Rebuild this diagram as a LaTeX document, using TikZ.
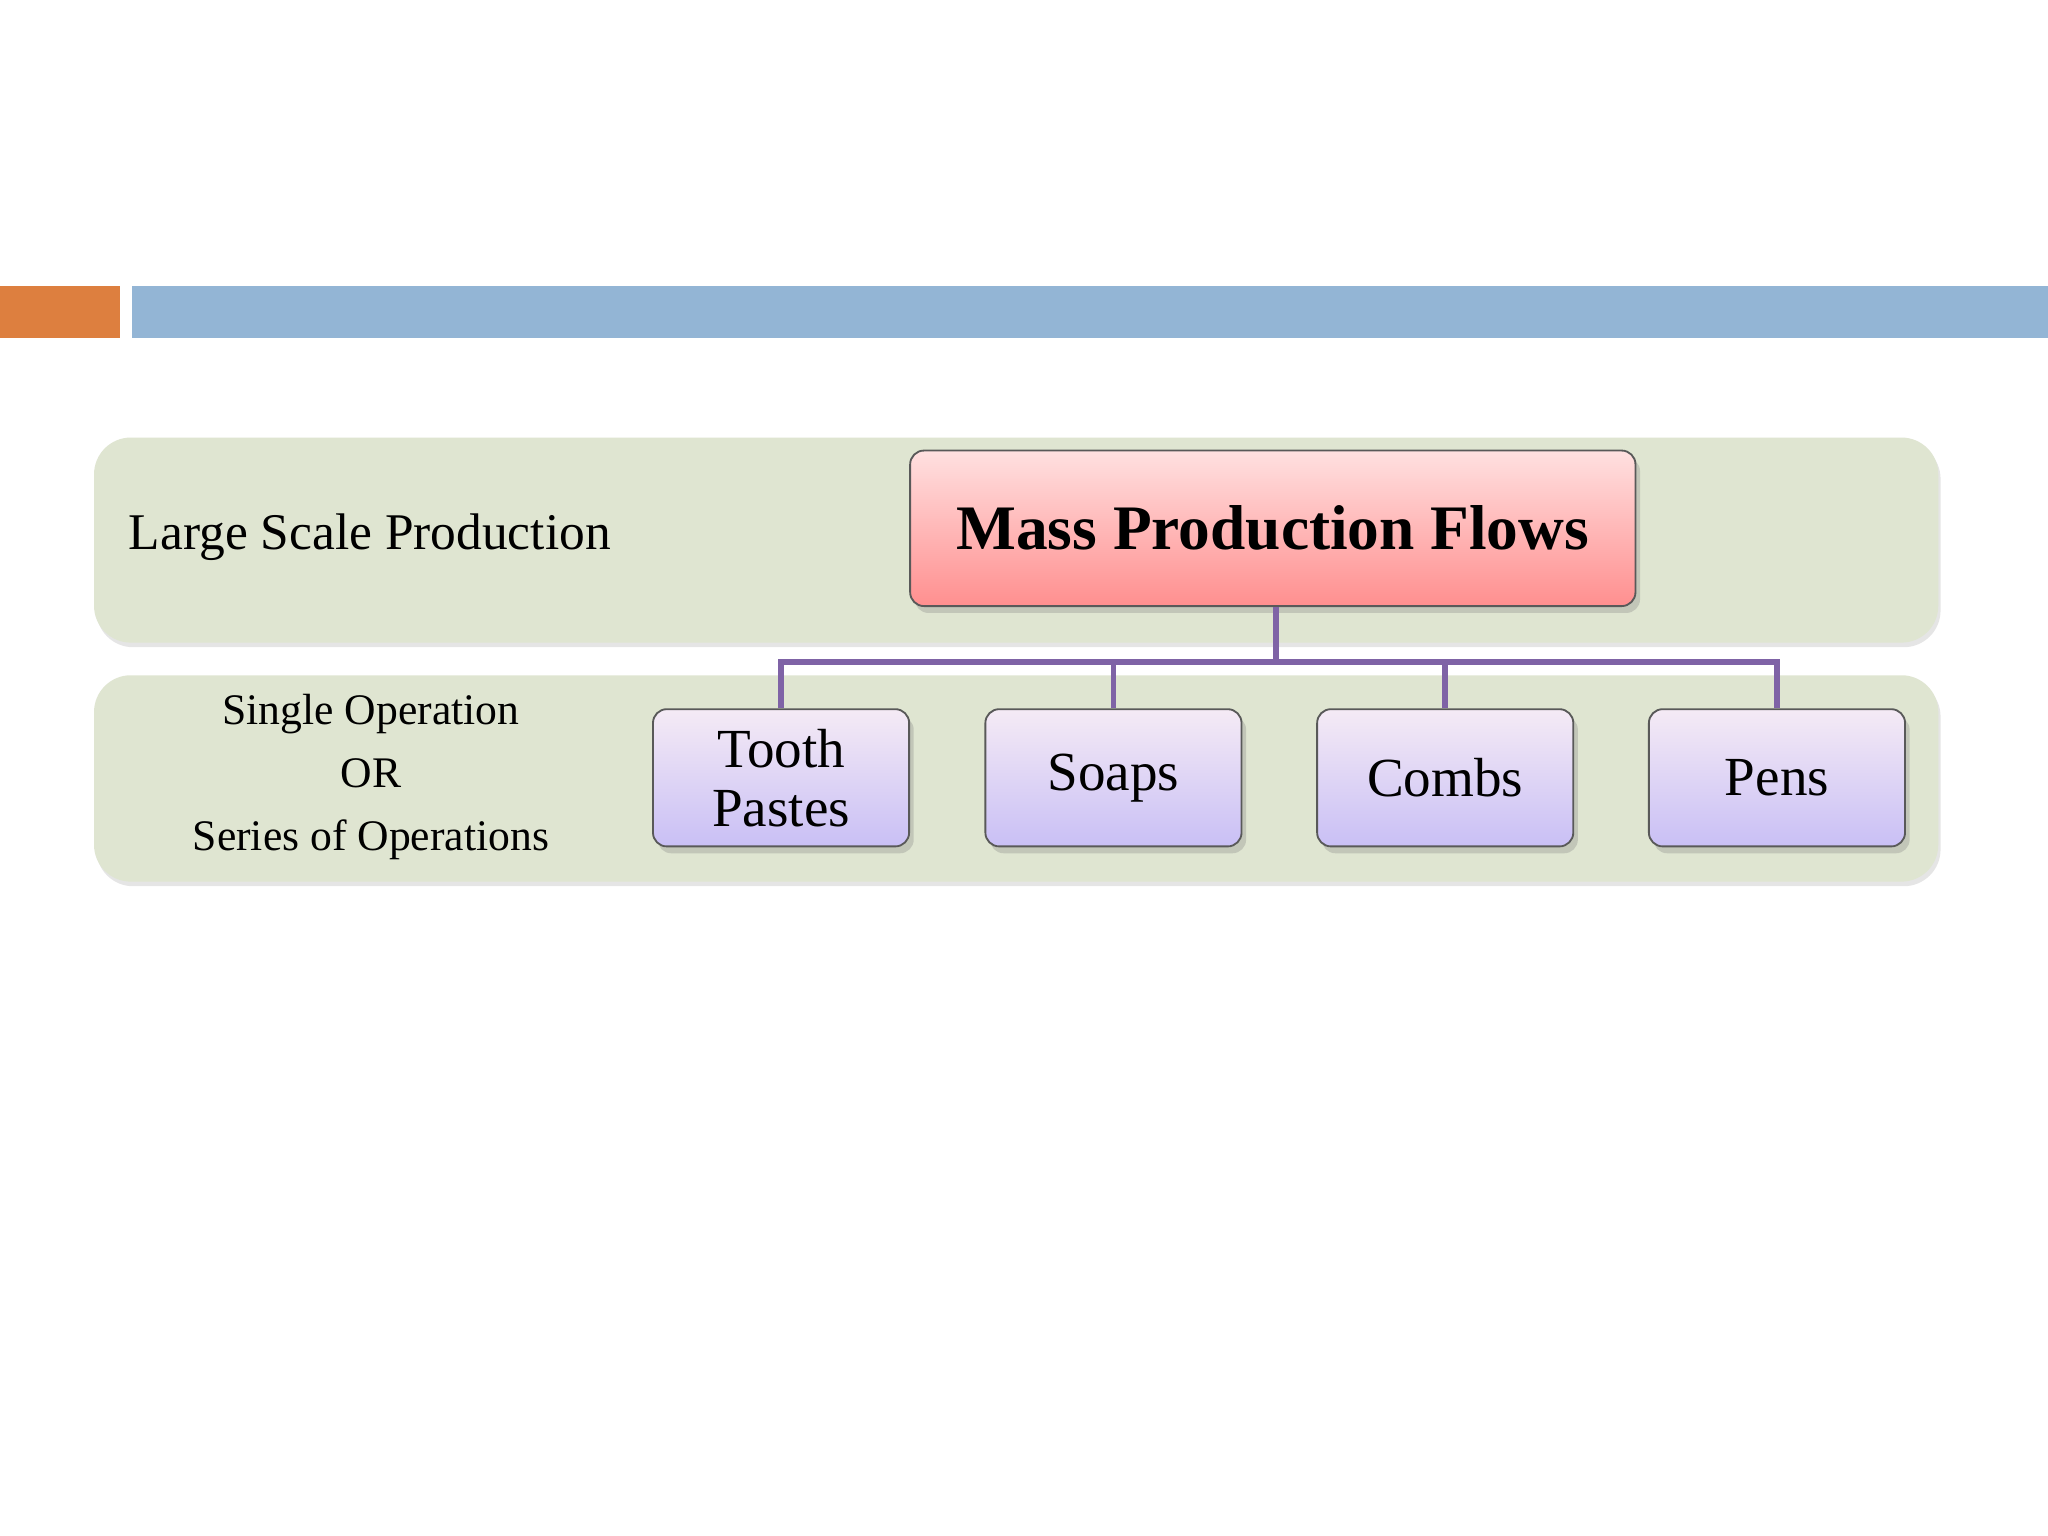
\documentclass[tikz,border=0pt]{standalone}
\usepackage{fontspec}
\setmainfont{Liberation Serif}
\usetikzlibrary{shadows}
\definecolor{bandc}{HTML}{DFE5D1}
\definecolor{orangec}{HTML}{DD7F3F}
\definecolor{bluec}{HTML}{93B5D5}
\definecolor{linec}{HTML}{7F63A6}
\tikzset{
  band/.style={fill=bandc,rounded corners=8pt,drop shadow={opacity=0.2,shadow xshift=0.5pt,shadow yshift=-1pt}},
  child/.style={draw=gray!70!black,rounded corners=3pt,top color=violet!8,bottom color=violet!30!blue!25,drop shadow={opacity=0.3,shadow xshift=1pt,shadow yshift=-1.5pt},font=\fontsize{12}{12.8}\selectfont,align=center,minimum width=1.96cm,minimum height=1.05cm,inner sep=0pt},
  conn/.style={draw=linec,line width=1.2pt}
}
\begin{document}
\begin{tikzpicture}[x=0.01cm,y=-0.01cm]
\useasboundingbox[fill=white] (0,0) rectangle (1568,1176);
\fill[orangec] (0,219) rectangle (92,259);
\fill[bluec] (101,219) rectangle (1568,259);
\path[band] (72,335) rectangle (1484,492);
\path[band] (72,517) rectangle (1484,675);
\node[anchor=west,inner sep=0pt,font=\fontsize{11.2}{12}\selectfont] (lsp) at (98,411) {Large Scale Production};
\node[align=center,font=\fontsize{9.5}{13.7}\selectfont] (sop) at (284,595) {Single Operation\\OR\\Series of Operations};
\node[draw=gray!70!black,rounded corners=3pt,top color=red!12,bottom color=red!40!pink!80,drop shadow={opacity=0.3,shadow xshift=1pt,shadow yshift=-1.5pt},minimum width=5.55cm,minimum height=1.19cm,font=\bfseries\fontsize{13.8}{14}\selectfont] (mass) at (974.5,404.5) {Mass Production Flows};
\node[child] (tp) at (598,595.5) {Tooth\\Pastes};
\node[child] (so) at (852.5,595.5) {Soaps};
\node[child] (co) at (1106.5,595.5) {Combs};
\node[child] (pe) at (1360.5,595.5) {Pens};
\coordinate (j) at (977,507);
\draw[conn] (mass.south -| j) -- (j);
\draw[conn] (tp.north) |- (j) -| (pe.north);
\draw[conn] (so.north) -- (so.north |- j);
\draw[conn] (co.north) -- (co.north |- j);
\end{tikzpicture}
\end{document}
